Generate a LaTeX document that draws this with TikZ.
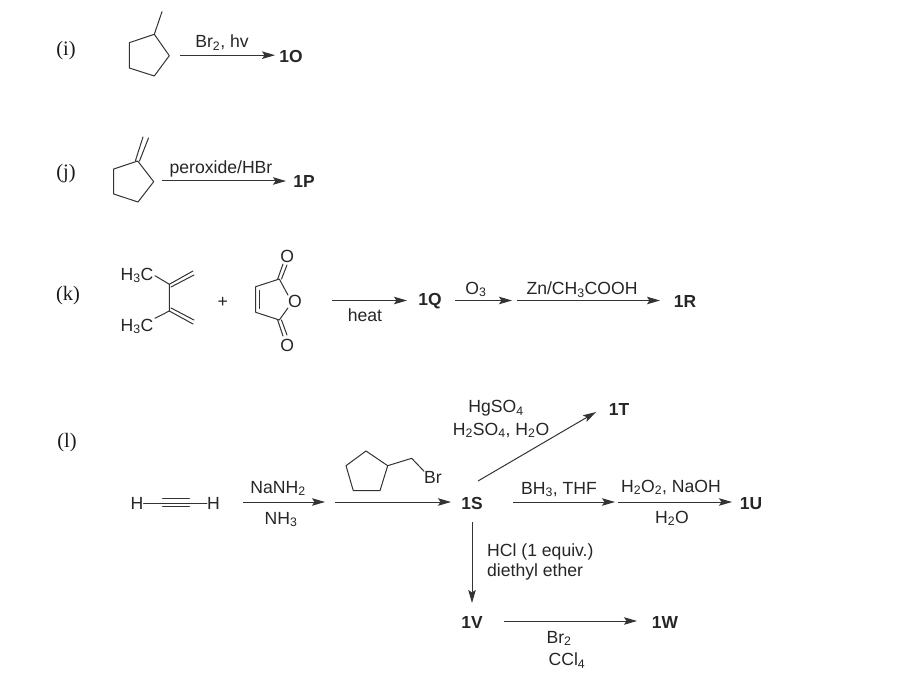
\documentclass[tikz,border=0pt]{standalone}
\usepackage{fontspec}
\setmainfont{Liberation Sans}
\newfontfamily\serifface{Liberation Serif}
\usetikzlibrary{arrows.meta}
\tikzset{
  txt/.style={inner sep=0pt,yshift=-1.5pt,font=\fontsize{17.6}{20}\selectfont,text=black!85},
  cpd/.style={txt,yshift=1pt,font=\fontsize{17.4}{20}\selectfont\bfseries},
  tag/.style={inner sep=0pt,yshift=-1.5pt,font=\fontsize{20.5}{24}\selectfont\serifface,text=black!90},
  bond/.style={draw=black!80,line width=1pt,line cap=round,line join=round},
  rxn/.style={draw=black!80,line width=1pt,-{Stealth[length=13pt,width=7.5pt,inset=2.5pt]}},
}
\begin{document}
\begin{tikzpicture}[x=1pt,y=-1pt]
\useasboundingbox[fill=white] (0,0) rectangle (902,692);
% tags
\node[tag] (ti) at (66,49) {(i)};
\node[tag] (tj) at (66,172) {(j)};
\node[tag] (tk) at (68,294) {(k)};
\node[tag] (tl) at (67,441) {(l)};
% (i)
\coordinate (a1) at (154.3,34.3); \coordinate (a2) at (169.3,55.7); \coordinate (a3) at (154.3,76);
\coordinate (a4) at (129.3,68); \coordinate (a5) at (129.3,42.7); \coordinate (a6) at (162,11.7);
\draw[bond] (a1)--(a2)--(a3)--(a4)--(a5)--cycle (a1)--(a6);
\coordinate (ia) at (180,55.2); \coordinate (ie) at (275,55.2); \node[cpd] (O1) at (291,56) {1O};
\draw[rxn] (ia) -- (ie);
\node[txt] (ib) at (222,41) {Br$_{\mathrm{2}}$, hv};
% (j)
\coordinate (b1) at (137.7,161); \coordinate (b2) at (153.7,181.7); \coordinate (b3) at (138,202);
\coordinate (b4) at (113.7,194); \coordinate (b5) at (113.7,169);
\coordinate (b6) at (143,137); \coordinate (b7) at (148.5,138);\coordinate (b8) at (135.5,160.5);\coordinate (b9) at (139.5,161);
\draw[bond] (b1)--(b2)--(b3)--(b4)--(b5)--cycle (b8)--(b6) (b9)--(b7);
\coordinate (ja) at (162,181); \coordinate (je) at (286,181); \node[cpd] (P1) at (304,181) {1P};
\draw[rxn] (ja) -- (je);
\node[txt] (jb) at (221,167) {peroxide/HBr};
% (k) diene
\node[txt] (m1) at (137,274) {H$_{\mathrm{3}}$C};
\node[txt] (m2) at (137,325) {H$_{\mathrm{3}}$C};
\coordinate (c1) at (169.3,284.3); \coordinate (c2) at (169.3,311);
\draw[bond] (155,275.7)--(c1)--(c2)--(155,318.3);
\draw[bond] (c1)--(193,271) (171,287)--(194,275);
\draw[bond] (c2)--(193,324) (171,308)--(194,320);
\node[txt] (plus) at (222.7,301) {+};
% maleic anhydride
\coordinate (d1) at (255.7,286.7); \coordinate (d2) at (255.7,312.3); \coordinate (d3) at (279.3,279); \coordinate (d4) at (279.3,320);
\node[txt] (Oa) at (295,300) {O};
\node[txt] (Ob) at (287.3,254.5) {O};
\node[txt] (Oc) at (287.3,344) {O};
\draw[bond] (Oa.north west)--(d3)--(d1)--(d2)--(d4)--(Oa.south west);
\draw[bond] (259.5,290.5)--(259.5,308.5);
\draw[bond] (277.5,279.5)--(283,264) (281.5,279)--(287,265);
\draw[bond] (277.5,319.5)--(283,336) (281.5,320)--(287,335);
\coordinate (ka) at (332,300.5); \coordinate (kf) at (407,300.5); \node[cpd] (Q1) at (430,301) {1Q};
\draw[rxn] (ka) -- (kf);
\node[txt] (kb) at (365,314) {heat};
\coordinate (kg) at (455,300.5); \coordinate (kh) at (512,300.5);
\draw[rxn] (kg) -- (kh);
\node[txt] (kc) at (476,288) {O$_{\mathrm{3}}$};
\coordinate (kd) at (517,300.5); \coordinate (ki) at (660,300.5); \node[cpd] (R1) at (685,301) {1R};
\draw[rxn] (kd) -- (ki);
\node[txt] (ke) at (582,288) {Zn/CH$_{\mathrm{3}}$COOH};
% (l)
\node[txt] (H1) at (137,502) {H};
\node[txt] (H2) at (213.5,502) {H};
\draw[bond] (H1.east)--(H2.west);
\draw[bond] (162.7,498)--(189.3,498) (162.7,506)--(189.3,506);
\coordinate (la) at (243,502); \coordinate (la2) at (325,502);
\draw[rxn] (la) -- (la2);
\node[txt] (lb) at (278,487) {NaNH$_{\mathrm{2}}$};
\node[txt] (lc) at (281,518) {NH$_{\mathrm{3}}$};
\coordinate (ld) at (335,502); \coordinate (ld2) at (451,502); \node[cpd] (S1) at (472,503) {1S};
\draw[rxn] (ld) -- (ld2);
\coordinate (e1) at (366,451); \coordinate (e2) at (387.7,465.7); \coordinate (e3) at (380,490.7);
\coordinate (e4) at (353.3,490.7); \coordinate (e5) at (346,465.7); \coordinate (e6) at (411.7,458.3);
\node[txt] (Br) at (433,476) {Br};
\draw[bond] (e1)--(e2)--(e3)--(e4)--(e5)--cycle (e2)--(e6)--(Br.north west);
\node[cpd] (T1) at (619,409) {1T};
\coordinate (s1) at (478,481); \coordinate (s2) at (596,412);
\draw[rxn] (s1) -- (s2);
\node[txt] (le) at (496,407) {HgSO$_{\mathrm{4}}$};
\node[txt] (lf) at (501,429) {H$_{\mathrm{2}}$SO$_{\mathrm{4}}$, H$_{\mathrm{2}}$O};
\coordinate (s3) at (513,502); \coordinate (s4) at (615,502); \coordinate (s5) at (618,502); \coordinate (s6) at (732,502);
\draw[rxn] (s3) -- (s4);
\node[txt] (lg) at (559,488) {BH$_{\mathrm{3}}$, THF};
\draw[rxn] (s5) -- (s6);
\node[txt] (lh) at (671,486) {H$_{\mathrm{2}}$O$_{\mathrm{2}}$, NaOH};
\node[txt] (li) at (672,517) {H$_{\mathrm{2}}$O};
\node[cpd] (U1) at (751,503) {1U};
\node[cpd] (V1) at (472,622) {1V};
\coordinate (s7) at (472,522); \coordinate (s8) at (472,603);
\draw[rxn] (s7) -- (s8);
\node[txt,anchor=west] (lj) at (487,550) {HCl (1 equiv.)};
\node[txt,anchor=west] (lk) at (487,570) {diethyl ether};
\coordinate (v1) at (504,621); \coordinate (v2) at (637,621);
\draw[rxn] (v1) -- (v2);
\node[cpd] (W1) at (665,622) {1W};
\node[txt] (ll) at (559,637) {Br$_{\mathrm{2}}$};
\node[txt] (lm) at (567,659) {CCl$_{\mathrm{4}}$};
\end{tikzpicture}
\end{document}
